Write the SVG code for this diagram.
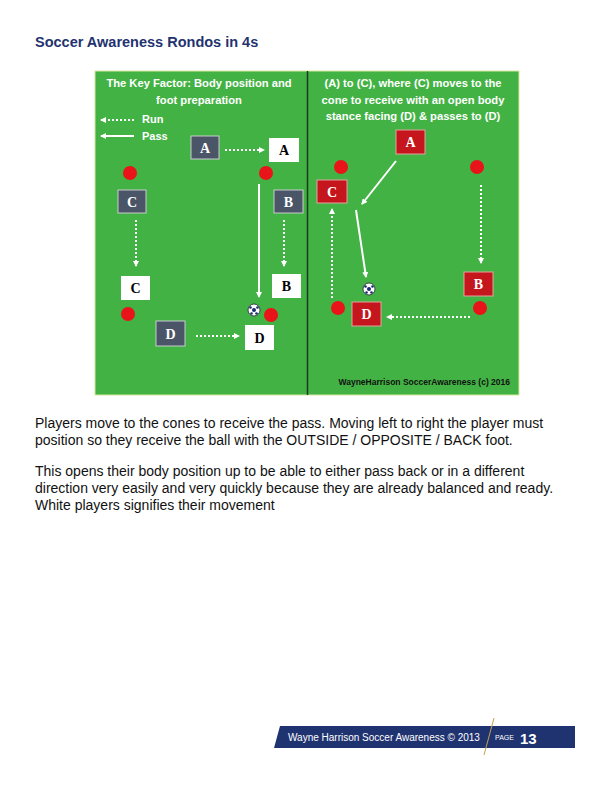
<svg xmlns="http://www.w3.org/2000/svg" width="612" height="792" viewBox="0 0 612 792">
<style>
.t{font-family:"Liberation Sans",Arial,sans-serif}
.hd{font-family:"Liberation Sans",Arial,sans-serif;font-weight:bold;font-size:11.2px;fill:#fff;text-anchor:middle}
.pl{font-family:"Liberation Serif","Times New Roman",serif;font-weight:bold;font-size:14px;text-anchor:middle}
.dk{fill:#4a5568;stroke:#c8ccd0;stroke-width:1}
.wh{fill:#fff}
.rd{fill:#c4161c;stroke:#e8a0a0;stroke-width:1}
.cone{fill:#e8141a}
.run{stroke:#fff;stroke-width:2;stroke-dasharray:2,2;fill:none}
.pass{stroke:#fff;stroke-width:2;fill:none}
.body{font-family:"Liberation Sans",Arial,sans-serif;font-size:14px;fill:#111}
</style>
<defs>
<marker id="ah" markerWidth="6" markerHeight="6" refX="5" refY="3" orient="auto" markerUnits="userSpaceOnUse"><path d="M0,0L6,3L0,6z" fill="#fff"/></marker>
<g id="ball"><circle r="6" fill="#fff" stroke="#223" stroke-width="0.8"/><circle r="2" fill="#1a2a6c"/><circle cx="-3.5" cy="-2.5" r="1.3" fill="#1a2a6c"/><circle cx="3.5" cy="-2.5" r="1.3" fill="#1a2a6c"/><circle cx="-2.5" cy="3.5" r="1.3" fill="#1a2a6c"/><circle cx="2.5" cy="3.5" r="1.3" fill="#1a2a6c"/></g>
</defs>
<rect width="612" height="792" fill="#fff"/>
<text class="t" x="35" y="47" font-size="14.5" font-weight="bold" fill="#1f3370">Soccer Awareness Rondos in 4s</text>
<rect x="95" y="71" width="424" height="324" fill="#43b244" stroke="#d8e8a0" stroke-width="1"/>
<line x1="307.5" y1="71" x2="307.5" y2="395" stroke="#1a3a1a" stroke-width="1.5"/>
<text class="hd" x="199" y="87">The Key Factor: Body position and</text>
<text class="hd" x="199" y="104">foot preparation</text>
<text class="hd" x="413" y="87">(A) to (C), where (C) moves to the</text>
<text class="hd" x="413" y="104">cone to receive with an open body</text>
<text class="hd" x="413" y="120">stance facing (D) &amp; passes to (D)</text>
<text class="t" x="142" y="123" font-size="11" font-weight="bold" fill="#fff">Run</text>
<text class="t" x="142" y="140" font-size="11" font-weight="bold" fill="#fff">Pass</text>
<text class="t" x="510" y="385" font-size="8.5" font-weight="bold" fill="#111" text-anchor="end">WayneHarrison SoccerAwareness (c) 2016</text>
<g id="connectors">
<line class="run" x1="134" y1="120" x2="101" y2="120" marker-end="url(#ah)"/>
<line class="pass" x1="134" y1="136" x2="101" y2="136" marker-end="url(#ah)"/>
<line class="run" x1="225" y1="150" x2="264" y2="150" marker-end="url(#ah)"/>
<line class="run" x1="136" y1="220" x2="136" y2="266" marker-end="url(#ah)"/>
<line class="run" x1="284" y1="220" x2="284" y2="266" marker-end="url(#ah)"/>
<line class="pass" x1="259" y1="184" x2="259" y2="297" marker-end="url(#ah)"/>
<line class="run" x1="196" y1="336" x2="239" y2="336" marker-end="url(#ah)"/>
<line class="pass" x1="396" y1="161" x2="362" y2="204" marker-end="url(#ah)"/>
<line class="pass" x1="356" y1="210" x2="366" y2="277" marker-end="url(#ah)"/>
<line class="run" x1="332" y1="298" x2="332" y2="209" marker-end="url(#ah)"/>
<line class="run" x1="470" y1="317" x2="387" y2="317" marker-end="url(#ah)"/>
<line class="run" x1="481" y1="185" x2="481" y2="263" marker-end="url(#ah)"/>
</g>
<g id="cones">
<circle class="cone" cx="130" cy="173" r="7"/><circle class="cone" cx="266" cy="173" r="7"/>
<circle class="cone" cx="128" cy="314" r="7"/><circle class="cone" cx="271" cy="315" r="7"/>
<circle class="cone" cx="341" cy="167" r="7"/><circle class="cone" cx="477" cy="167" r="7"/>
<circle class="cone" cx="338" cy="308" r="7"/><circle class="cone" cx="480" cy="308" r="7"/>
</g>
<use href="#ball" x="254" y="310"/>
<use href="#ball" x="369" y="289"/>
<g id="lA1"><rect class="dk" x="191" y="136" width="28" height="23"/><text class="pl" x="205" y="153" fill="#fff">A</text></g>
<g id="lA2"><rect class="wh" x="269" y="138" width="30" height="24"/><text class="pl" x="284" y="155" fill="#000">A</text></g>
<g id="lC1"><rect class="dk" x="118" y="190" width="28" height="23"/><text class="pl" x="132" y="207" fill="#fff">C</text></g>
<g id="lC2"><rect class="wh" x="121" y="276" width="29" height="24"/><text class="pl" x="135.5" y="293" fill="#000">C</text></g>
<g id="lB1"><rect class="dk" x="274" y="190" width="29" height="23"/><text class="pl" x="288.5" y="207" fill="#fff">B</text></g>
<g id="lB2"><rect class="wh" x="272" y="274" width="29" height="24"/><text class="pl" x="286.5" y="291" fill="#000">B</text></g>
<g id="lD1"><rect class="dk" x="156" y="321" width="29" height="25"/><text class="pl" x="170.5" y="339" fill="#fff">D</text></g>
<g id="lD2"><rect class="wh" x="245" y="325" width="29" height="25"/><text class="pl" x="259.5" y="343" fill="#000">D</text></g>
<g id="rA"><rect class="rd" x="396" y="130" width="29" height="24"/><text class="pl" x="410.5" y="147" fill="#fff">A</text></g>
<g id="rC"><rect class="rd" x="317" y="180" width="30" height="23"/><text class="pl" x="332" y="197" fill="#fff">C</text></g>
<g id="rB"><rect class="rd" x="464" y="272" width="29" height="24"/><text class="pl" x="478.5" y="289" fill="#fff">B</text></g>
<g id="rD"><rect class="rd" x="352" y="302" width="29" height="24"/><text class="pl" x="366.5" y="319" fill="#fff">D</text></g>
<text class="body" x="35" y="428">Players move to the cones to receive the pass. Moving left to right the player must</text>
<text class="body" x="35" y="445">position so they receive the ball with the OUTSIDE / OPPOSITE / BACK foot.</text>
<text class="body" x="35" y="476">This opens their body position up to be able to either pass back or in a different</text>
<text class="body" x="35" y="493">direction very easily and very quickly because they are already balanced and ready.</text>
<text class="body" x="35" y="510">White players signifies their movement</text>
<g id="footer">
<path d="M280,726H575V748H274z" fill="#1f3370"/>
<text class="t" x="288" y="741" font-size="10" fill="#fff">Wayne Harrison Soccer Awareness © 2013</text>
<line x1="494" y1="718" x2="484" y2="755" stroke="#c8a050" stroke-width="1"/>
<text class="t" x="495" y="740" font-size="7" fill="#fff">PAGE</text>
<text class="t" x="520" y="744" font-size="15" font-weight="bold" fill="#fff">13</text>
</g>
</svg>
